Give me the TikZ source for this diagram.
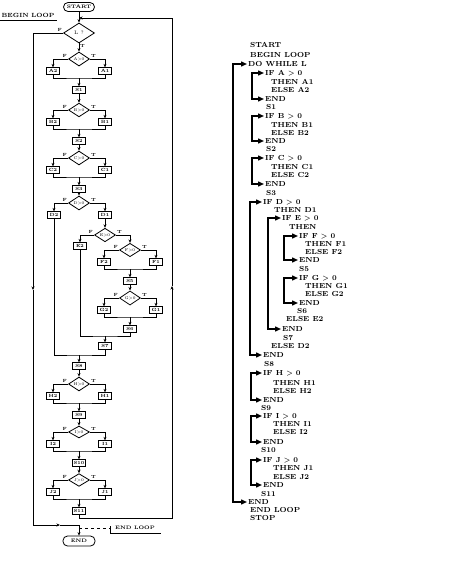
\documentclass[tikz,border=0pt]{standalone}
\usetikzlibrary{arrows.meta,shapes.geometric}

\tikzset{
  flow/.style={-{Stealth[length=3.5pt,width=3pt]},line width=0.8pt},
  ln/.style={line width=0.8pt},
  dec/.style={draw,diamond,line width=0.8pt,minimum width=21pt,minimum height=10pt,inner sep=0pt,font=\fontsize{4}{4}\selectfont},
  box/.style={draw,rectangle,line width=0.8pt,minimum width=13pt,minimum height=6.5pt,inner sep=0.5pt,font=\fontsize{4.5}{4.5}\selectfont\bfseries},
  term/.style={draw,rectangle,rounded corners=4.5pt,line width=0.8pt,minimum width=31pt,minimum height=9pt,inner sep=0.5pt,font=\fontsize{5}{5}\selectfont\bfseries},
  lab/.style={inner sep=0.8pt,font=\fontsize{4.5}{4.5}\selectfont\bfseries},
  stmt/.style={anchor=west,inner sep=1pt,font=\fontsize{7.3}{8}\selectfont\bfseries},
  br/.style={{Triangle[length=6pt,width=5pt]}-{Triangle[length=6pt,width=5pt]},line width=1.4pt},
}

\begin{document}
\begin{tikzpicture}[x=1pt,y=-1pt]
\useasboundingbox (0,0) rectangle (474,582);

% flowchart: loop head
\node[term] (start) at (79,7) {START};
\node[dec,minimum width=31pt,minimum height=20pt,font=\fontsize{5}{5}\selectfont] (dL) at (79,33) {L ?};
\node[lab,font=\fontsize{6}{6}\selectfont\bfseries,inner sep=2pt] (begc) at (28,15) {BEGIN LOOP};
\draw[ln] ([yshift=-1.5pt]begc.south west) -- ([yshift=-1.5pt]begc.south east);
\coordinate (entry) at (79,18);

% simple IF blocks
\foreach \n/\xc/\yd/\s in {A/79/59/S1,B/79/110/S2,C/79/158/S3,F/130/250/S5,G/130/298/S6,H/79/384/S9,I/79/432/S10,J/79/480/S11}{
  \node[dec] (d\n) at (\xc,\yd) {\n\textgreater0};
  \node[box] (f\n) at (\xc-26,\yd+12) {\n2};
  \node[box] (t\n) at (\xc+26,\yd+12) {\n1};
  \coordinate (j\n) at (\xc,\yd+19);
  \node[box] (s\n) at (\xc,\yd+31) {\s};
  \draw[flow] (d\n.west) node[lab,above left]{F} -| (f\n.north);
  \draw[flow] (d\n.east) node[lab,above right]{T} -| (t\n.north);
  \draw[ln] (f\n.south) |- (j\n) -| (t\n.south);
  \draw[flow] (j\n) -- (s\n.north);
}

% nested IF D / IF E
\node[dec] (dD) at (79,203) {D\textgreater0};
\node[box] (fD) at (54,215) {D2};
\node[box] (tD) at (105,215) {D1};
\node[dec] (dE) at (105,235) {E\textgreater0};
\node[box] (fE) at (80,246) {E2};
\coordinate (jE) at (105,336);
\node[box] (sE) at (105,346) {S7};
\coordinate (jD) at (79,355);
\node[box] (sD) at (79,366) {S8};

\draw[flow] (dD.west) node[lab,above left]{F} -| (fD.north);
\draw[flow] (dD.east) node[lab,above right]{T} -| (tD.north);
\draw[flow] (tD) -- (dE);
\draw[flow] (dE.west) node[lab,above left]{F} -| (fE.north);
\draw[flow] (dE.east) node[lab,above right]{T} -| (dF.north);
\draw[ln] (fE.south) |- (jE) -| (sG.south);
\draw[flow] (jE) -- (sE);
\draw[ln] (fD.south) |- (jD) -| (sE.south);
\draw[flow] (jD) -- (sD);

% main line
\draw[flow] (start) -- (dL);
\draw[flow] (dL.south) node[lab,below right]{T} -- (dA.north);
\draw[flow] (sA) -- (dB);
\draw[flow] (sB) -- (dC);
\draw[flow] (sC) -- (dD);
\draw[flow] (sF) -- (dG);
\draw[flow] (sD) -- (dH);
\draw[flow] (sH) -- (dI);
\draw[flow] (sI) -- (dJ);

% loop back and exit
\coordinate (loopR) at (172,518);
\coordinate (midR) at (172,286);
\coordinate (midL) at (33,290);
\coordinate (midB) at (60,525);
\coordinate (ann) at (79,528);
\coordinate (annB) at (110,528);
\node[term,minimum width=32pt,minimum height=10pt] (endT) at (79,541) {END};
\node[lab,anchor=west,font=\fontsize{5}{5}\selectfont\bfseries,inner sep=3pt] (endc) at (112,528) {END LOOP};

\draw[flow] (sJ.south) |- (loopR) -- (midR);
\draw[flow] (midR) |- (entry);
\draw[flow] (dL.west) node[lab,above left]{F} -| (midL);
\draw[flow] (midL) |- (midB);
\draw[flow] (midB) -| (endT);
\draw[ln,dashed] (ann) -- (annB);
\draw[ln] (annB) ++(0,-2) |- ([xshift=3pt]endc.south east);

% pseudo code
\foreach \n/\x/\y/\t in {
  cst/249/45/START, cbl/249/55/{BEGIN LOOP}, dowl/247/64/{DO WHILE L},
  ifA/264/73/{IF A \textgreater{} 0}, thA/270/82/{THEN A1}, elA/270/90/{ELSE A2}, enA/264/99/END, ssA/265/107/S1,
  ifB/264/116/{IF B \textgreater{} 0}, thB/270/125/{THEN B1}, elB/270/133/{ELSE B2}, enB/264/141/END, ssB/265/149/S2,
  ifC/264/158/{IF C \textgreater{} 0}, thC/270/167/{THEN C1}, elC/270/175/{ELSE C2}, enC/264/184/END, ssC/265/193/S3,
  ifD/262/202/{IF D \textgreater{} 0}, thD/273/210/{THEN D1},
  ifE/281/218/{IF E \textgreater{} 0}, thE/288/227/THEN,
  ifF/298/236/{IF F \textgreater{} 0}, thF/304/244/{THEN F1}, elF/304/252/{ELSE F2}, enF/298/260/END, ssF/298/269/S5,
  ifG/298/278/{IF G \textgreater{} 0}, thG/304/286/{THEN G1}, elG/304/294/{ELSE G2}, enG/298/303/END, ssG/296/311/S6,
  elE/285/319/{ELSE E2}, enE/281/329/END, ssE/282/338/S7,
  elD/270/346/{ELSE D2}, enD/262/355/END, ssD/263/364/S8,
  ifH/262/373/{IF H \textgreater{} 0}, thH/272/383/{THEN H1}, elH/272/391/{ELSE H2}, enH/262/400/END, ssH/260/408/S9,
  ifI/262/416/{IF I \textgreater{} 0}, thI/272/424/{THEN I1}, elI/272/432/{ELSE I2}, enI/262/442/END, ssI/260/450/S10,
  ifJ/262/460/{IF J \textgreater{} 0}, thJ/272/468/{THEN J1}, elJ/272/477/{ELSE J2}, enJ/262/485/END, ssJ/260/494/S11,
  endl/247/502/END, celp/249/510/{END LOOP}, cstp/249/518/STOP}
  \node[stmt] (\n) at (\x,\y) {\t};

\foreach \n/\bx in {A/252,B/252,C/252,D/250,E/268,F/284,G/284,H/251,I/251,J/251}
  \draw[br] (if\n.west) -- (if\n.west -| \bx,0) |- (en\n.west);
\draw[br] (dowl.west) -- (dowl.west -| 233,0) |- (endl.west);
\end{tikzpicture}
\end{document}
